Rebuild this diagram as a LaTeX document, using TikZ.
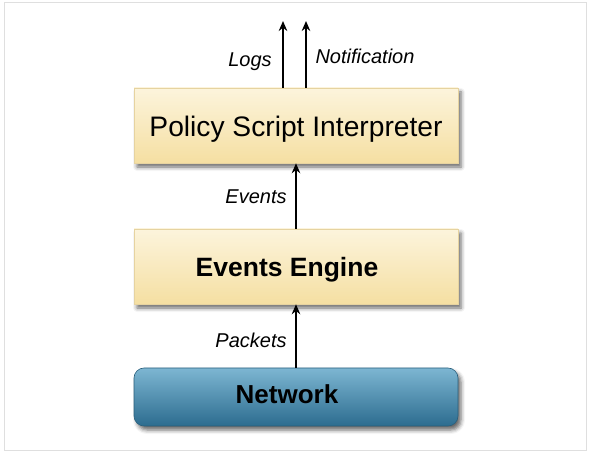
\documentclass[tikz,border=0pt]{standalone}
\usepackage{fontspec}
\setmainfont{Liberation Sans}
\usetikzlibrary{arrows.meta,shadows.blur}
\definecolor{boxtop}{HTML}{FCF4DC}
\definecolor{boxbot}{HTML}{F5DFA2}
\definecolor{boxedge}{HTML}{E6D3A0}
\definecolor{nettop}{HTML}{7DB6D2}
\definecolor{netbot}{HTML}{2C6C8F}
\definecolor{netedge}{HTML}{2A5F7C}
\tikzset{
  layerbox/.style={minimum width=324pt, minimum height=75pt, inner sep=0pt,
    top color=boxtop, bottom color=boxbot, draw=boxedge, line width=0.5pt,
    blur shadow={shadow xshift=3pt, shadow yshift=-4pt, shadow blur radius=4pt, shadow opacity=60}},
  netbox/.style={minimum width=324pt, minimum height=58pt, inner sep=0pt,
    rounded corners=10pt, top color=nettop, bottom color=netbot, draw=netedge, line width=0.6pt,
    blur shadow={shadow xshift=3pt, shadow yshift=-4pt, shadow blur radius=4pt, shadow opacity=60}},
  boxtext/.style={anchor=base, inner sep=0pt},
  flow/.style={-{Stealth[length=10pt,width=8.5pt]}, line width=2.8pt, black},
  lbl/.style={font=\fontsize{20pt}{22pt}\selectfont\itshape, inner sep=0pt, anchor=base}
}
\begin{document}
\begin{tikzpicture}[x=1pt,y=-1pt]
\useasboundingbox (0,0) rectangle (590,457);
\draw[gray!25, line width=1pt] (4,3) rectangle (586,451);
\node[layerbox] (psi) at (296,125.5) {};
\node[layerbox] (ee) at (296,266.5) {};
\node[netbox] (net) at (296,397) {};
\node[boxtext, font=\fontsize{28.2pt}{30pt}\selectfont] (psitext) at (296,137) {Policy Script Interpreter};
\node[boxtext, font=\fontsize{26.5pt}{28pt}\selectfont\bfseries] (eetext) at (287,277) {Events Engine};
\node[boxtext, font=\fontsize{26pt}{28pt}\selectfont\bfseries] (nettext) at (287,404) {Network};
\coordinate (logend) at (283,21);
\coordinate (notend) at (306,21);
\draw[flow] (psi.north -| logend) -- (logend);
\draw[flow] (psi.north -| notend) -- (notend);
\draw[flow] (ee.north) -- (psi.south);
\draw[flow] (net.north) -- (ee.south);
\node[lbl] (logs) at (250,67) {Logs};
\node[lbl] (notif) at (365,64) {Notification};
\node[lbl] (events) at (256,204) {Events};
\node[lbl] (packets) at (251,348) {Packets};
\end{tikzpicture}
\end{document}
